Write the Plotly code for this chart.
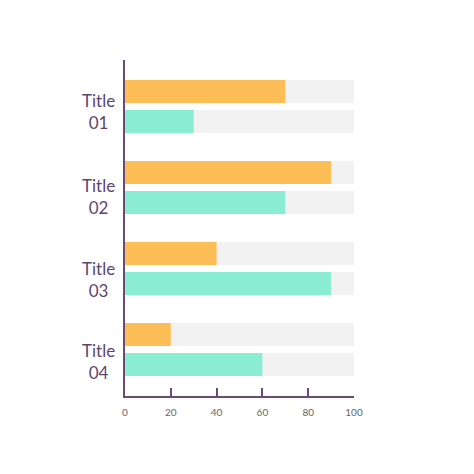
import plotly.graph_objects as go

categories = ["Title 01", "Title 02", "Title 03", "Title 04"]
label_text = ["Title<br>01", "Title<br>02", "Title<br>03", "Title<br>04"]
orange_values = [70, 90, 40, 20]
green_values = [30, 70, 90, 60]
full_values = [100, 100, 100, 100]
tick_vals = [0, 20, 40, 60, 80, 100]

purple = "#6a4b78"
label_shift = [-5, -9, -11, -12]  # labels drift a bit below the bar pairs

fig = go.Figure()
# grey tracks behind each bar
fig.add_trace(go.Bar(y=categories, x=full_values, orientation="h", offsetgroup="a",
                     marker=dict(color="#f2f2f2", line=dict(width=0)), hoverinfo="skip"))
fig.add_trace(go.Bar(y=categories, x=full_values, orientation="h", offsetgroup="b",
                     marker=dict(color="#f2f2f2", line=dict(width=0)), hoverinfo="skip"))
fig.add_trace(go.Bar(y=categories, x=orange_values, orientation="h", offsetgroup="a",
                     marker=dict(color="#fdbd57", line=dict(width=0))))
fig.add_trace(go.Bar(y=categories, x=green_values, orientation="h", offsetgroup="b",
                     marker=dict(color="#8aedd1", line=dict(width=0))))

for cat, txt, dy in zip(categories, label_text, label_shift):
    fig.add_annotation(x=-0.116, xref="paper", y=cat, yref="y", text=txt,
                       showarrow=False, xanchor="center", yanchor="middle",
                       align="center", yshift=dy,
                       font=dict(family="Lato", size=17, color="#604570"))

# page body has an 8px margin, so pull the plot area up/left by that much
fig.update_layout(
    width=474, height=474,
    margin=dict(l=117, r=128, t=52, b=86),
    paper_bgcolor="white", plot_bgcolor="white",
    barmode="group", bargap=0.259, bargroupgap=0.233,
    showlegend=False,
    xaxis=dict(range=[0, 100], tickvals=tick_vals, showgrid=False, zeroline=False,
               showline=True, linecolor=purple, linewidth=2,
               ticks="inside", ticklen=8, tickwidth=1.5, tickcolor=purple,
               ticklabelstandoff=6,
               tickfont=dict(family="Lato", size=10, color="#666666")),
    yaxis=dict(range=[3.574, -0.574], showticklabels=False, showgrid=False,
               zeroline=False, showline=True, linecolor=purple, linewidth=2,
               ticks=""),
)

fig.write_html("out.html")
